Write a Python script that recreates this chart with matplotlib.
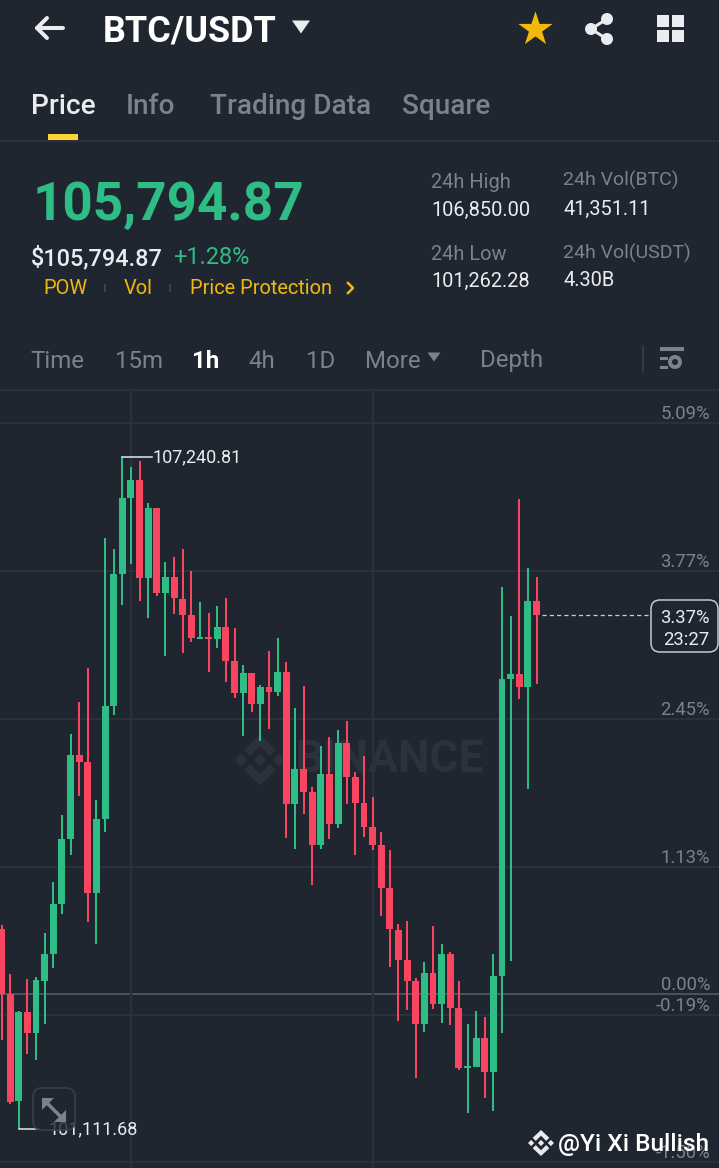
import matplotlib
matplotlib.use("Agg")
import matplotlib.pyplot as plt
from matplotlib.patches import FancyBboxPatch, Polygon, Circle, Rectangle

plt.rcParams["font.family"] = ["Roboto", "DejaVu Sans"]

W, H = 719, 1168
BG = "#1f2630"
GREEN = "#2ebd85"
RED = "#f9455f"
GRID = "#2a313b"
GRAY = "#7a828e"
WHITE = "#eaecef"
YELLOW = "#f0b90b"

# candles, % change against the 0.00% line
opens = [0.580, 0.000, -0.954, -0.161, -0.348, 0.116, 0.357, 0.803, 1.382, 2.132,
         2.069, 0.901, 1.561, 2.569, 3.746, 4.424, 4.584, 3.710, 4.335, 3.577,
         3.719, 3.523, 3.380, 3.166, 3.184, 3.166, 3.273, 2.970, 2.685, 2.863,
         2.587, 2.738, 2.694, 2.872, 1.695, 2.007, 1.802, 1.329, 1.962, 1.516,
         2.239, 1.935, 1.704, 1.489, 1.329, 0.945, 0.571, 0.303, 0.116, -0.268,
         0.187, -0.089, 0.357, -0.125, -0.660, -0.651, -0.392, -0.696, 0.161, 2.809,
         2.854, 2.738, 3.505]
closes = [0.000, -0.963, -0.161, -0.348, 0.125, 0.357, 0.803, 1.382, 2.132, 2.069,
          0.901, 1.561, 2.569, 3.746, 4.424, 4.584, 3.710, 4.335, 3.577, 3.719,
          3.532, 3.380, 3.175, 3.184, 3.166, 3.273, 2.970, 2.685, 2.863, 2.587,
          2.738, 2.694, 2.872, 1.695, 2.007, 1.802, 1.329, 1.962, 1.516, 2.239,
          1.935, 1.704, 1.489, 1.329, 0.945, 0.580, 0.303, 0.116, -0.268, 0.187,
          -0.089, 0.357, -0.125, -0.660, -0.642, -0.392, -0.696, 0.161, 2.809, 2.854,
          2.738, 3.505, 3.380]
highs = [0.615, 0.178, -0.152, 0.134, 0.152, 0.544, 0.999, 1.597, 2.319, 2.604,
         2.908, 1.730, 4.067, 3.969, 4.790, 4.700, 4.754, 4.379, 4.335, 3.853,
         3.898, 3.969, 3.773, 3.496, 3.398, 3.461, 3.532, 3.264, 2.934, 2.863,
         2.756, 3.059, 3.175, 2.961, 2.551, 2.747, 1.846, 2.212, 2.292, 2.355,
         2.435, 1.980, 2.123, 1.757, 1.445, 1.284, 0.624, 0.651, 0.143, 0.285,
         0.606, 0.446, 0.375, 0.116, -0.268, -0.152, -0.205, 0.357, 3.630, 3.371,
         4.415, 3.799, 3.719]
lows = [-0.410, -0.981, -1.204, -0.535, -0.589, -0.268, 0.232, 0.714, 1.240, 1.766,
        0.642, 0.446, 1.445, 2.488, 3.469, 3.835, 3.505, 3.354, 3.550, 3.015,
        3.389, 3.041, 3.139, 3.166, 2.872, 3.086, 2.783, 2.640, 2.301, 2.515,
        2.256, 2.364, 2.658, 1.391, 1.293, 1.605, 0.972, 1.293, 1.382, 1.481,
        1.695, 1.240, 1.400, 1.284, 0.696, 0.241, -0.241, -0.143, -0.749, -0.339,
        -0.134, -0.259, -0.276, -0.678, -1.061, -0.651, -0.928, -1.044, -0.348, 0.294,
        2.631, 1.828, 2.765]

grid_pcts = [5.09, 3.77, 2.45, 1.13, -0.19, -1.50]
axis_pcts = [5.09, 3.77, 2.45, 1.13, 0.00, -0.19, -1.50]
axis_labels = ["5.09%", "3.77%", "2.45%", "1.13%", "0.00%", "-0.19%", "-1.50%"]
grid_candles = [15, 43]
high_label = "107,240.81"
low_label = "101,111.68"
tabs = ["Price", "Info", "Trading Data", "Square"]
tab_x = [31, 126, 210, 402]
intervals = ["Time", "15m", "1h", "4h", "1D", "More", "Depth"]
interval_x = [30, 115, 192, 248, 306, 365, 480]


def px(size):
    return size * 0.72


fig = plt.figure(figsize=(W / 100, H / 100), dpi=100, facecolor=BG)

under = fig.add_axes([0, 0, 1, 1], zorder=0)
under.set_xlim(0, W)
under.set_ylim(H, 0)
under.axis("off")

# chart axes, same frame as the picture: pixel 390 down to the bottom edge
ax = fig.add_axes([0, 0, 1, 778 / H], zorder=1)
ax.patch.set_alpha(0)
ax.set_xlim(-0.174, 83.14)
ax.set_ylim(-1.552, 5.387)
ax.axis("off")

over = fig.add_axes([0, 0, 1, 1], zorder=2)
over.patch.set_alpha(0)
over.set_xlim(0, W)
over.set_ylim(H, 0)
over.axis("off")


def txt(axis, x, y, s, size, color=WHITE, ha="left", weight="normal", **kw):
    # roboto sits a bit high on va=center
    axis.text(x, y + 2, s, fontsize=px(size), color=color, ha=ha, va="center", weight=weight, **kw)


def tri(axis, x, y, w, h, color):
    axis.add_patch(Polygon([(x - w / 2, y - h / 2), (x + w / 2, y - h / 2), (x, y + h / 2)],
                           color=color, lw=0))


def logo(axis, cx, cy, r, color, zorder=1):
    s = r / 25
    def d(x, y, k):
        axis.add_patch(Polygon([(cx + x * s, cy + (y - k) * s), (cx + (x + k) * s, cy + y * s),
                                (cx + x * s, cy + (y + k) * s), (cx + (x - k) * s, cy + y * s)],
                               color=color, lw=0, zorder=zorder))
    d(0, 0, 6)
    d(-19, 0, 6)
    d(19, 0, 6)
    for sign in (-1, 1):
        axis.add_patch(Polygon([(cx, cy + sign * 25 * s), (cx + 16 * s, cy + sign * 10 * s),
                                (cx + 10 * s, cy + sign * 4 * s), (cx, cy + sign * 14 * s),
                                (cx - 10 * s, cy + sign * 4 * s), (cx - 16 * s, cy + sign * 10 * s)],
                               color=color, lw=0, zorder=zorder))


# header
under.plot([37, 63], [28, 28], color=WHITE, lw=px(4), solid_capstyle="round")
under.plot([47, 37, 47], [18, 28, 38], color=WHITE, lw=px(4), solid_capstyle="round", solid_joinstyle="round")
txt(under, 103, 30, "BTC/USDT", 36, "#ffffff", weight="bold")
tri(under, 301, 27, 18, 13, WHITE)
under.scatter([535], [29], s=680, marker="*", color=YELLOW, lw=0)
for x, y in [(607, 19), (591, 29), (607, 39)]:
    under.add_patch(Circle((x, y), 6, color=WHITE, lw=0))
under.plot([607, 591, 607], [19, 29, 39], color=WHITE, lw=px(3))
for x, y in [(657, 15), (672, 15), (657, 30), (672, 30)]:
    under.add_patch(Rectangle((x, y), 12, 12, color=WHITE, lw=0))

for i, (label, x) in enumerate(zip(tabs, tab_x)):
    txt(under, x, 105, label, 28, WHITE if i == 0 else GRAY, weight="medium")
under.add_patch(Rectangle((48, 134), 30, 6, color="#fcd535", lw=0))
under.plot([0, W], [140.5, 140.5], color=GRID, lw=px(2))

# price block
txt(under, 33, 203, "105,794.87", 53, GREEN, weight="bold")
txt(under, 31, 256, "$105,794.87", 23.5, WHITE, weight="medium")
txt(under, 173, 256, "+1.28%", 23.5, GREEN)
txt(under, 43, 287, "POW", 20, YELLOW)
txt(under, 124, 287, "Vol", 20, YELLOW)
txt(under, 190, 287, "Price Protection", 20, YELLOW)
under.plot([348, 353, 348], [283, 288, 293], color=YELLOW, lw=px(2.5))
under.plot([105, 105], [285, 291], color="#3a414b", lw=px(2))
under.plot([170, 170], [285, 291], color="#3a414b", lw=px(2))

txt(under, 431, 181, "24h High", 20, GRAY)
txt(under, 431, 208, "106,850.00", 20, WHITE)
txt(under, 431, 253, "24h Low", 20, GRAY)
txt(under, 431, 279, "101,262.28", 20, WHITE)
txt(under, 563, 178, "24h Vol(BTC)", 19.5, GRAY)
txt(under, 563, 207, "41,351.11", 20, WHITE)
txt(under, 563, 251, "24h Vol(USDT)", 19.5, GRAY)
txt(under, 563, 279, "4.30B", 20, WHITE)

# interval row
for label, x in zip(intervals, interval_x):
    on = label == "1h"
    txt(under, x, 359, label, 24, "#ffffff" if on else GRAY, weight="bold" if on else "normal")
tri(under, 434, 357, 13, 9, GRAY)
under.plot([643, 643], [346, 372], color="#3a414b", lw=px(1.5))
under.add_patch(Rectangle((660, 347), 24, 4, color=GRAY, lw=0))
under.add_patch(Rectangle((660, 357), 8, 3, color=GRAY, lw=0))
under.add_patch(Rectangle((660, 366), 8, 3, color=GRAY, lw=0))
under.add_patch(Circle((675, 362), 7, color=GRAY, lw=0))
under.add_patch(Circle((675, 362), 3, color=BG, lw=0))
under.plot([0, W], [389.5, 389.5], color=GRID, lw=px(2))

# watermark under the candles
logo(under, 260, 760, 25, "#2c323c")
txt(under, 295, 758, "BINANCE", 44.5, "#2c323c", weight="bold")

# grid
ax.hlines(grid_pcts, -0.174, 83.14, color=GRID, lw=px(2), zorder=1)
ax.hlines([0.0], -0.174, 83.14, color="#4b515b", lw=px(2), zorder=1)
ax.vlines(grid_candles, -1.552, 5.387, color=GRID, lw=px(2), zorder=1)

# candles
idx = list(range(len(opens)))
colors = [GREEN if c > o else RED for o, c in zip(opens, closes)]
ax.vlines(idx, lows, highs, colors=colors, lw=px(2), zorder=2)
ax.bar(idx, [abs(c - o) for o, c in zip(opens, closes)],
       bottom=[min(o, c) for o, c in zip(opens, closes)],
       width=0.8, color=colors, lw=0, zorder=3)

# axis labels sit ten pixels over their line
for p, label in zip(axis_pcts, axis_labels):
    ax.annotate(label, xy=(710 / W, p), xycoords=("axes fraction", "data"),
                xytext=(0, px(9)), textcoords="offset points",
                ha="right", va="center", fontsize=px(18.5), color=GRAY)

# extreme markers
top = highs.index(max(highs))
bot = lows.index(min(lows))
ax.plot([top, top + 3.4], [highs[top], highs[top]], color=WHITE, lw=px(1.5), zorder=4)
ax.annotate(high_label, xy=(top + 3.4, highs[top]), xytext=(px(0.5), 0), textcoords="offset points",
            ha="left", va="center", fontsize=px(18), color=WHITE)
ax.plot([bot, bot + 2.3], [lows[bot], lows[bot]], color=WHITE, lw=px(1.5), zorder=4)
ax.annotate(low_label, xy=(bot + 3.6, lows[bot]), xytext=(-px(1), 0), textcoords="offset points",
            ha="left", va="center", fontsize=px(18), color=WHITE)

# last price line and tag
last = len(opens) - 1
ax.plot([last + 0.6, 75], [closes[last], closes[last]], color="#c8ccd2", lw=px(1.3),
        dashes=(3.2, 2.4), zorder=4)
over.add_patch(FancyBboxPatch((651, 600), 67, 52, boxstyle="round,pad=0,rounding_size=9",
                              fc=BG, ec="#c8ccd2", lw=px(1.5)))
txt(over, 710, 616, "3.37%", 18.5, WHITE, ha="right")
txt(over, 709, 638, "23:27", 18.5, WHITE, ha="right")

# expand button
over.add_patch(FancyBboxPatch((33, 1088), 42, 42, boxstyle="round,pad=0,rounding_size=9",
                              fc=BG, ec="#3a414b", lw=px(2), alpha=0.8))
over.plot([44, 64], [1100, 1120], color=GRAY, lw=px(3.5))
over.add_patch(Polygon([(42, 1098), (54, 1098), (42, 1110)], color=GRAY, lw=0))
over.add_patch(Polygon([(66, 1122), (54, 1122), (66, 1110)], color=GRAY, lw=0))

# bottom right credit
logo(over, 541, 1143, 13, WHITE, zorder=3)
txt(over, 558, 1142, "@Yi Xi Bullish", 24.5, "#ffffff", weight="medium")

fig.savefig("out.png", dpi=100, facecolor=BG)
